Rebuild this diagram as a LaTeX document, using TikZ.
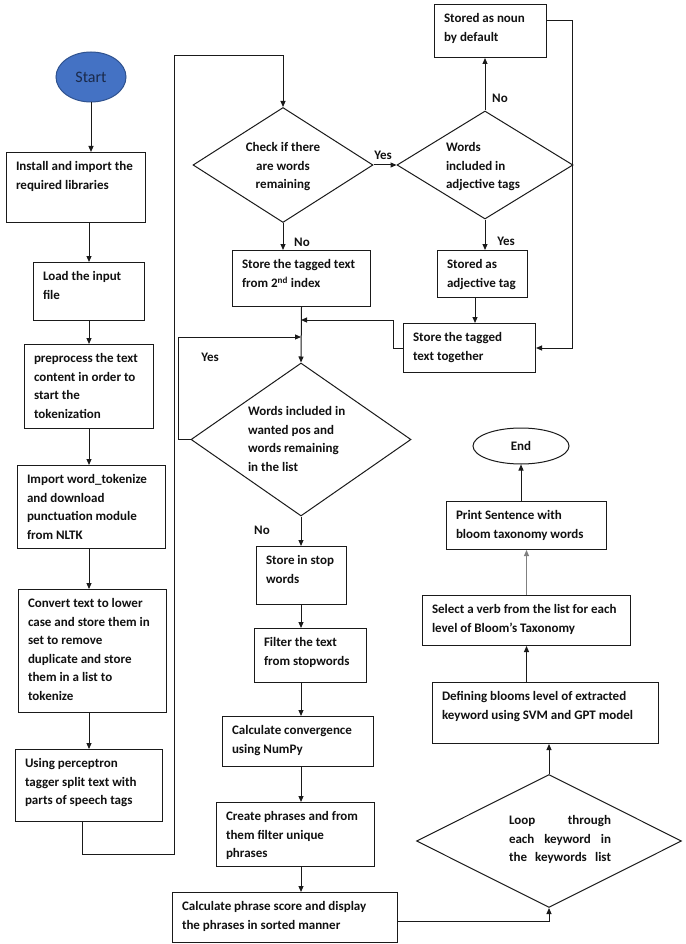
\documentclass[tikz,border=0pt]{standalone}
\usepackage{fontspec}
\setmainfont{Carlito}
\usetikzlibrary{shapes.geometric,arrows.meta,calc}
\definecolor{ln}{HTML}{1A1A1A}
\definecolor{txt}{HTML}{111111}
\definecolor{startf}{HTML}{4472C4}
\definecolor{startb}{HTML}{2F528F}
\definecolor{startt}{HTML}{1B2A4A}
\newcommand{\bt}[3]{\begin{minipage}[c][#2][t]{#1}\vspace*{5.5pt}\hspace*{9.5pt}\begin{tabular}[t]{@{}l@{}}#3\end{tabular}\end{minipage}}
\newcommand{\dtx}[5]{\makebox[0pt][#1]{\hspace*{#2}\raisebox{#3}[0pt][0pt]{\begin{tabular}[c]{@{}#4@{}}#5\end{tabular}}}}
\tikzset{
 base/.style={font=\fontsize{13}{18.5}\selectfont\bfseries, text=txt},
 proc/.style={base, draw=ln, line width=1pt, rectangle, inner sep=0pt, anchor=north west, fill=white},
 dec/.style={base, draw=ln, line width=1pt, diamond, inner sep=0pt, fill=white},
 lbl/.style={base, inner sep=0pt},
 arr/.style={draw=ln, line width=1pt, -{Triangle[length=6pt,width=5pt]}},
}
\begin{document}
\begin{tikzpicture}[x=1pt,y=-1pt]
\fill[white] (0,0) rectangle (685,944);
\useasboundingbox (0,0) rectangle (685,944);
% start / end
\node[ellipse, draw=startb, line width=1pt, fill=startf, minimum width=70pt, minimum height=50pt, inner sep=0pt, font=\fontsize{16}{18}\selectfont, text=startt] (start) at (91,77) {Start};
\node[ellipse, base, draw=ln, line width=1pt, minimum width=96pt, minimum height=36pt, inner sep=0pt] (end) at (521,446) {End};
% left column
\node[proc] (b1) at (6,152) {\bt{139pt}{70pt}{Install and import the\\required libraries}};
\node[proc] (b2) at (33,262) {\bt{111pt}{58pt}{Load the input\\file}};
\node[proc] (b3) at (24,344) {\bt{129pt}{84pt}{preprocess the text\\content in order to\\start the\\tokenization}};
\node[proc] (b4) at (17,465) {\bt{148pt}{83pt}{Import word\_tokenize\\and download\\punctuation module\\from NLTK}};
\node[proc] (b5) at (18,589) {\bt{148pt}{123pt}{Convert text to lower\\case and store them in\\set to remove\\duplicate and store\\them in a list to\\tokenize}};
\node[proc] (b6) at (15,749) {\bt{147pt}{72pt}{Using perceptron\\tagger split text with\\parts of speech tags}};
% middle / top right
\node[dec, minimum width=180pt, minimum height=115pt] (d1) at (283,165) {\dtx{c}{0pt}{-4.7pt}{c}{Check if there\\are words\\remaining}};
\node[dec, minimum width=176pt, minimum height=108pt] (d2) at (485,165) {\dtx{l}{-39pt}{-4.7pt}{l}{Words\\included in\\adjective tags}};
\node[proc] (b7) at (232,250) {\bt{138pt}{56pt}{Store the tagged text\\from 2\textsuperscript{nd} index}};
\node[proc] (b8) at (434,4) {\bt{112pt}{53pt}{Stored as noun\\by default}};
\node[proc] (b9) at (437,250) {\bt{90pt}{47pt}{Stored as\\adjective tag}};
\node[proc] (b10) at (403,323) {\bt{132pt}{49pt}{Store the tagged\\text together}};
\node[dec, minimum width=220pt, minimum height=153pt] (d3) at (301,439.5) {\dtx{l}{-53pt}{-3.2pt}{l}{Words included in\\wanted pos and\\words remaining\\in the list}};
\node[proc] (b11) at (256,546) {\bt{90pt}{58pt}{Store in stop\\words}};
\node[proc] (b12) at (254,628) {\bt{112pt}{54pt}{Filter the text\\from stopwords}};
\node[proc] (b13) at (222,716) {\bt{151pt}{50pt}{Calculate convergence\\using NumPy}};
\node[proc] (b14) at (216,802) {\bt{158pt}{64pt}{Create phrases and from\\them filter unique\\phrases}};
\node[proc] (b15) at (172,892) {\bt{225pt}{50pt}{Calculate phrase score and display\\the phrases in sorted manner}};
% right column
\node[dec, minimum width=265pt, minimum height=133pt] (d4) at (549,841) {\dtx{l}{-40pt}{-1.7pt}{p{102pt}}{Loop\hfill through\\each\hfill keyword\hfill in\\the\hfill keywords\hfill list}};
\node[proc] (b16) at (432,682) {\bt{226pt}{61pt}{Defining blooms level of extracted\\keyword using SVM and GPT model}};
\node[proc] (b17) at (422,595) {\bt{208pt}{50pt}{Select a verb from the list for each\\level of Bloom's Taxonomy}};
\node[proc] (b18) at (446,501) {\bt{160pt}{48pt}{Print Sentence with\\bloom taxonomy words}};
% labels
\node[lbl] (yes1) at (383,155) {Yes};
\node[lbl] (no1) at (500,98) {No};
\node[lbl] (yes2) at (506,241) {Yes};
\node[lbl] (no2) at (302,242) {No};
\node[lbl] (yes3) at (210,357) {Yes};
\node[lbl] (no3) at (262,530) {No};
% helper coordinates
\coordinate (lc) at (89,0);
\coordinate (sp) at (301,0);
\coordinate (rc) at (475,0);
\coordinate (rt) at (572,0);
\coordinate (lp1) at (174,854);
\coordinate (lp2) at (174,56);
\coordinate (mA) at (301,320);
\coordinate (mB) at (301,337);
% connectors left column
\draw[arr] (start.south) -- (start.south |- b1.north);
\draw[arr] (b1.south -| lc) -- (b2.north -| lc);
\draw[arr] (b2.south -| lc) -- (b3.north -| lc);
\draw[arr] (b3.south -| lc) -- (b4.north -| lc);
\draw[arr] (b4.south -| lc) -- (b5.north -| lc);
\draw[arr] (b5.south -| lc) -- (b6.north -| lc);
\draw[arr] ($(b6.south)+(-7,0)$) |- (lp1) -- (lp2) -| (d1.north);
% top
\draw[arr] (d1.east) -- (d2.west);
\draw[arr] (d2.north) -- (d2.north |- b8.south);
\draw[arr] (d2.south) -- (d2.south |- b9.north);
\draw[arr] (b9.south -| rc) -- (b10.north -| rc);
\draw[arr] ($(b8.north east)+(0,17)$) -| (rt |- b10.east) -- (b10.east);
\draw[arr] (b10.west) -- ++(-10,0) |- (mA);
\draw[arr] (d1.south) -- (d1.south |- b7.north);
\draw[arr] (b7.south) -- (d3.north);
\draw[arr] (d3.west) -- ++(-12,0) |- (mB);
\draw[arr] (d3.south) -- (d3.south |- b11.north);
\draw[arr] (b11.south -| sp) -- (b12.north -| sp);
\draw[arr] (b12.south -| sp) -- (b13.north -| sp);
\draw[arr] (b13.south -| sp) -- (b14.north -| sp);
\draw[arr] (b14.south -| sp) -- (b15.north -| sp);
\draw[arr] ($(b15.east)+(0,4)$) -| (d4.south);
\draw[arr] (d4.north) -- (d4.north |- b16.south);
\draw[arr] (b17.south |- b16.north) -- (b17.south);
\draw[arr, draw=gray] (b18.south |- b17.north) -- (b18.south);
\draw[arr] (end.south |- b18.north) -- (end.south);
\end{tikzpicture}
\end{document}
